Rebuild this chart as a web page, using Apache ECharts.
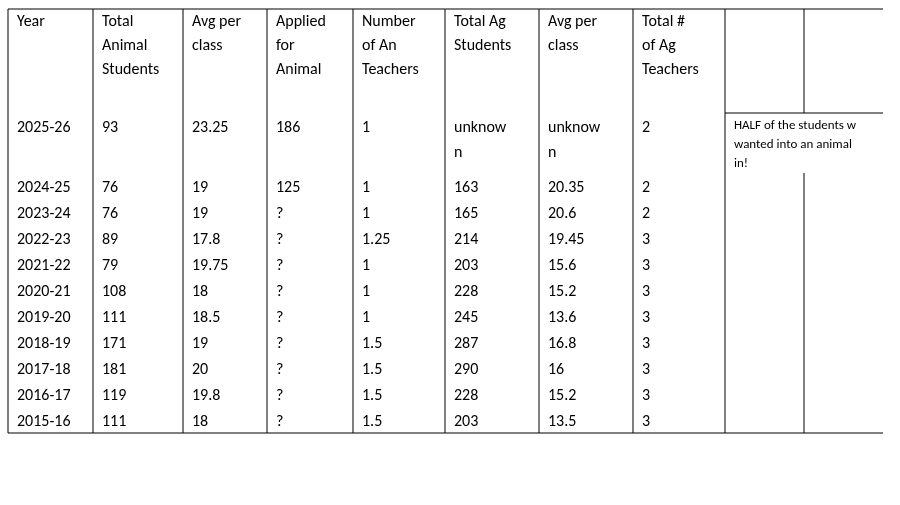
<!DOCTYPE html>
<html>
<head>
<meta charset="utf-8">
<script src="https://cdn.jsdelivr.net/npm/echarts@6/dist/echarts.min.js"></script>
<style>html,body{margin:0;background:#fff}#main{width:900px;height:505px}</style>
</head>
<body>
<div id="main"></div>
<script>
var headers = [
  ['Year'], ['Total', 'Animal', 'Students'], ['Avg per', 'class'], ['Applied', 'for', 'Animal'],
  ['Number', 'of An', 'Teachers'], ['Total Ag', 'Students'], ['Avg per', 'class'], ['Total #', 'of Ag', 'Teachers']
];
var years = ['2025-26', '2024-25', '2023-24', '2022-23', '2021-22', '2020-21', '2019-20', '2018-19', '2017-18', '2016-17', '2015-16'];
var animalStudents = ['93', '76', '76', '89', '79', '108', '111', '171', '181', '119', '111'];
var animalAvg = ['23.25', '19', '19', '17.8', '19.75', '18', '18.5', '19', '20', '19.8', '18'];
var applied = ['186', '125', '?', '?', '?', '?', '?', '?', '?', '?', '?'];
var animalTeachers = ['1', '1', '1', '1.25', '1', '1', '1', '1.5', '1.5', '1.5', '1.5'];
var agStudents = ['unknow\nn', '163', '165', '214', '203', '228', '245', '287', '290', '228', '203'];
var agAvg = ['unknow\nn', '20.35', '20.6', '19.45', '15.6', '15.2', '13.6', '16.8', '16', '15.2', '13.5'];
var agTeachers = ['2', '2', '2', '3', '3', '3', '3', '3', '3', '3', '3'];
var note = 'HALF of the students w\nwanted into an animal\nin!';

var colEdges = [8, 93, 183, 267, 353, 445, 539, 633, 725, 804, 883];
var rowY = [127, 187, 213, 239, 265, 291, 317, 343, 369, 395, 421];
var tableTop = 9, tableBottom = 433;
var font = '16px Carlito, "Liberation Sans", sans-serif';
var columns = [years, animalStudents, animalAvg, applied, animalTeachers, agStudents, agAvg, agTeachers];

var els = [];
function line(x1, y1, x2, y2) {
  els.push({ type: 'line', shape: { x1: x1, y1: y1, x2: x2, y2: y2 }, style: { stroke: '#000', lineWidth: 1 } });
}
function text(x, y, s, f, lh) {
  els.push({ type: 'text', x: x, y: y, style: { text: s, font: f || font, fill: '#000', lineHeight: lh || 25, verticalAlign: 'top' } });
}
headers.forEach(function (h, c) { text(colEdges[c] + 9, 10, h.join('\n'), null, 24); });
columns.forEach(function (col, c) {
  col.forEach(function (v, r) { text(colEdges[c] + 9, rowY[r] - 12, v); });
});
text(734, 116, note, '13px Carlito, "Liberation Sans", sans-serif', 19);
els.push({ type: 'rect', shape: { x: 884, y: 0, width: 20, height: 505 }, style: { fill: '#fff' } });
line(colEdges[0], tableTop, colEdges[10], tableTop);
line(colEdges[0], tableBottom, colEdges[10], tableBottom);
colEdges.forEach(function (x, i) {
  if (i === 9) { line(x, tableTop, x, 113); line(x, 173, x, tableBottom); }
  else if (i < 10) line(x, tableTop, x, tableBottom);
});
line(725, 113, 883, 113);

var chart = echarts.init(document.getElementById('main'));
chart.setOption({ animation: false, graphic: els });
</script>
</body>
</html>
